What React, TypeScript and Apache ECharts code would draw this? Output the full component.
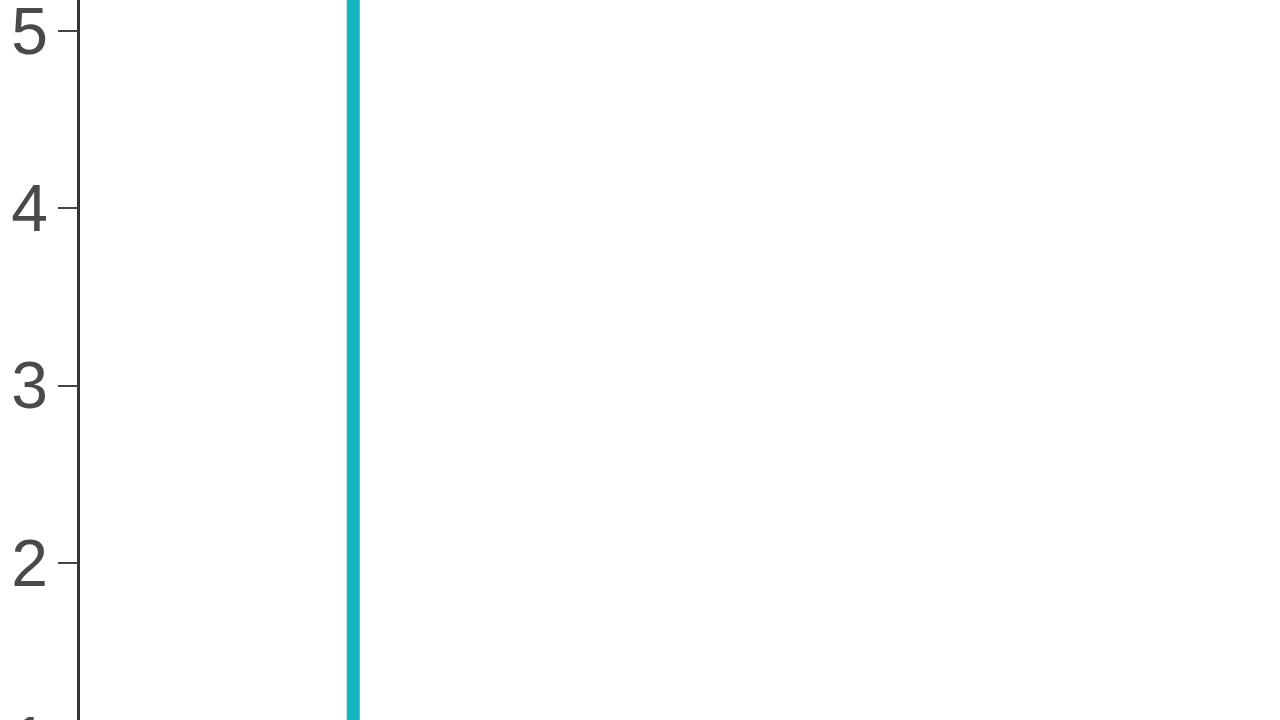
import { useEffect, useRef } from "react";
import * as echarts from "echarts";

// y axis runs past the visible frame; only 2..5 land fully on screen
const yMin = 1;
const yMax = 6;
const yStep = 1;

// single teal trace, a vertical segment at one x position
const traceX = [22.9, 22.9];
const traceY = [0, 7];

const xMin = 0;
const xMax = 100;

export default function App() {
  const chartRef = useRef<HTMLDivElement>(null);

  useEffect(() => {
    if (!chartRef.current) return;
    const chart = echarts.init(chartRef.current, null, { renderer: "svg" });
    chart.setOption({
      animation: false,
      backgroundColor: "#ffffff",
      grid: {
        left: 78,
        right: 0,
        top: -146.8,
        bottom: -20.2,
        containLabel: false,
        outerBoundsMode: "none",
      },
      xAxis: {
        type: "value",
        min: xMin,
        max: xMax,
        show: false,
      },
      yAxis: {
        type: "value",
        min: yMin,
        max: yMax,
        interval: yStep,
        axisLine: { show: true, lineStyle: { color: "#333333", width: 3 } },
        axisTick: { show: true, length: 20, lineStyle: { color: "#444444", width: 2 } },
        splitLine: { show: false },
        axisLabel: {
          fontSize: 66,
          color: "#4a4a4a",
          fontFamily: "Liberation Sans, Arial, sans-serif",
          margin: 30,
          showMaxLabel: false,
        },
      },
      series: [
        {
          type: "line",
          data: traceX.map((x, i) => [x, traceY[i]]),
          showSymbol: false,
          clip: true,
          lineStyle: { color: "#14b5be", width: 13 },
          itemStyle: { color: "#14b5be" },
        },
      ],
    });
    return () => chart.dispose();
  }, []);

  return (
    <div
      ref={chartRef}
      style={{ position: "fixed", left: 0, top: 0, width: 1280, height: 720 }}
    />
  );
}
